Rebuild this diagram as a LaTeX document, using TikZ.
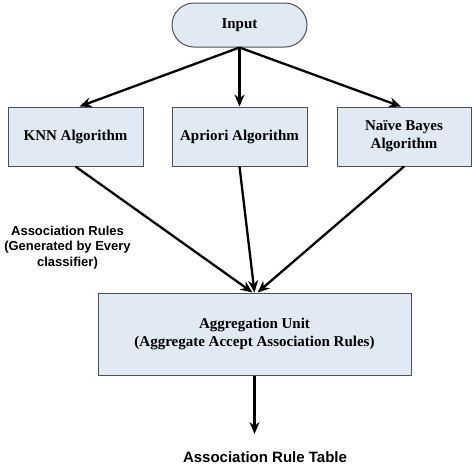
\documentclass[tikz,border=0pt]{standalone}
\usepackage{fontspec}
\setmainfont{Liberation Serif}
\setsansfont{Liberation Sans}
\usepackage{tikz}
\usetikzlibrary{arrows.meta, positioning, calc}
\definecolor{BoxBlue}{HTML}{E1E9F5}
\definecolor{BoxEdge}{HTML}{505050}

\begin{document}
\begin{tikzpicture}[
        x=1pt, y=-1pt,
        font=\fontsize{15}{18}\selectfont\bfseries,
        algbox/.style={draw=BoxEdge, fill=BoxBlue, line width=1pt, inner sep=0pt,
                       minimum width=135pt, minimum height=59pt, align=center},
        pill/.style={algbox, rounded corners=22pt, minimum height=44pt},
        link/.style={-{Stealth[length=12pt, width=10pt]}, line width=2.3pt},
        note/.style={font=\fontsize{13}{15.5}\selectfont\sffamily\bfseries, align=center},
      ]
        \useasboundingbox (0,0) rectangle (474,467);
        % ---- input ----
        \node[pill] (input) at (239.5,25) {Input};
        % ---- classifiers ----
        \node[algbox] (knn) at (75.5,136.5) {KNN Algorithm};
        \node[algbox] (apriori) at (239.5,136.5) {Apriori Algorithm};
        \node[algbox, minimum width=134pt] (bayes) at (404,136.5) {Naïve Bayes\\Algorithm};
        % ---- aggregation ----
        \node[algbox, minimum width=313pt, minimum height=82pt] (agg) at (254.5,334)
          {Aggregation Unit\\(Aggregate Accept Association Rules)};
        \coordinate (out) at (254.5,434);
        \node[note, font=\fontsize{15}{18}\selectfont\sffamily\bfseries] (table) at (265,457) {Association Rule Table};
        \node[note] (rules) at (67.5,247.5) {Association Rules\\(Generated by Every\\classifier)};
        % ---- connectors ----
        \draw[link] (input.south) -- ($(knn.north)+(4,0)$);
        \draw[link] (input.south) -- (apriori.north);
        \draw[link] (input.south) -- ($(bayes.north)+(-3,0)$);
        \draw[link] (knn.south) -- ($(agg.north)+(-2,0)$);
        \draw[link] (apriori.south) -- (agg.north);
        \draw[link] (bayes.south) -- ($(agg.north)+(3,0)$);
        \draw[link] (agg.south) -- (out);
      \end{tikzpicture}
\end{document}
